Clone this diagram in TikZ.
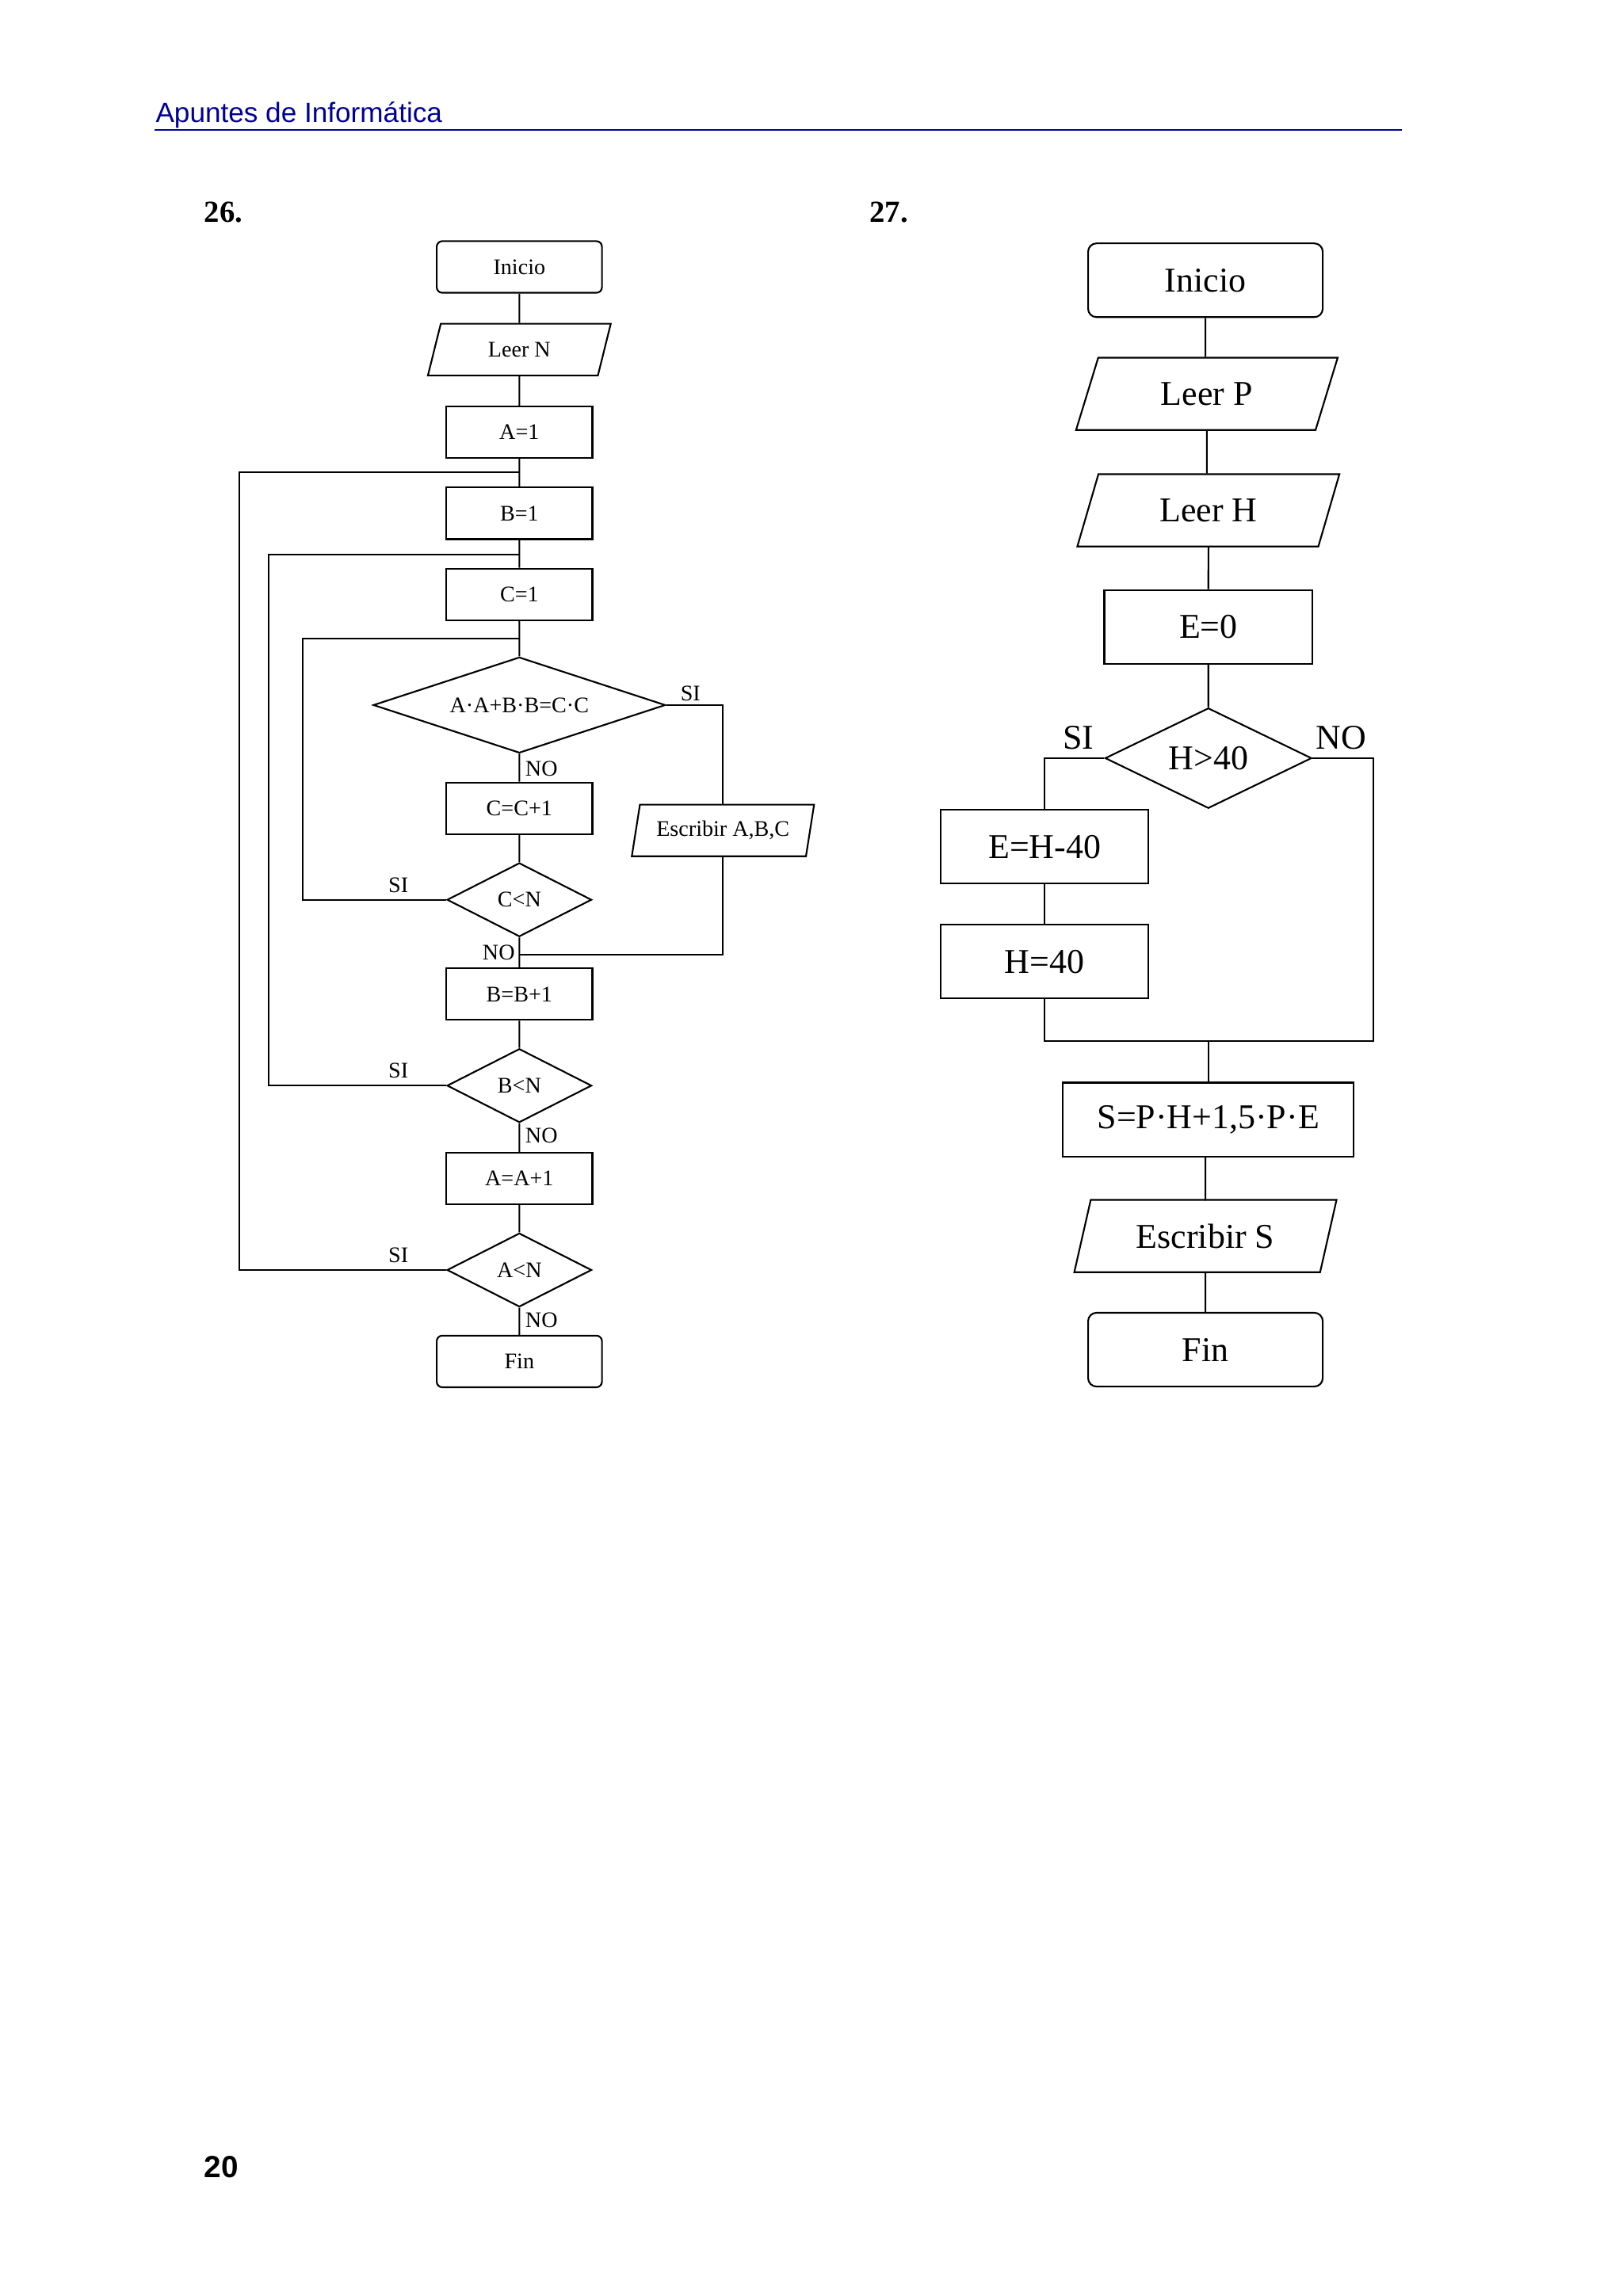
\documentclass[tikz,border=0pt]{standalone}
\usepackage{fontspec}
\setmainfont{Liberation Serif}
\newfontfamily\hsans{Liberation Sans}
\usetikzlibrary{shapes.geometric}
\newlength\un \setlength\un{0.018618cm}
\begin{document}
\begin{tikzpicture}[x=0.018618cm,y=-0.018618cm,line width=0.6pt,
 box/.style={draw,rectangle,minimum width=99\un,minimum height=35\un,inner sep=0pt,font=\fontsize{8}{9}\selectfont},
 rbox/.style={box,rounded corners=2pt,minimum width=112\un},
 io/.style={draw,trapezium,trapezium left angle=71,trapezium right angle=109,trapezium stretches=true,minimum width=124\un,minimum height=35\un,inner sep=0pt,font=\fontsize{8}{9}\selectfont},
 dec/.style={draw,diamond,aspect=2,inner sep=0pt,font=\fontsize{8}{9}\selectfont},
 Box/.style={draw,rectangle,minimum width=141\un,minimum height=50\un,inner sep=0pt,font=\fontsize{12.5}{14}\selectfont},
 RBox/.style={Box,rounded corners=3pt,minimum width=159\un},
 IO/.style={draw,trapezium,trapezium left angle=68,trapezium right angle=112,trapezium stretches=true,minimum width=178\un,minimum height=49\un,inner sep=0pt,font=\fontsize{12.5}{14}\selectfont},
 lab/.style={font=\fontsize{8}{9}\selectfont,inner sep=1pt},
 Lab/.style={font=\fontsize{12.5}{14}\selectfont,inner sep=1pt}]
\useasboundingbox (0,0) rectangle (1100,1556.6);
% header
\node[anchor=base west,inner sep=0,text=blue!60!black,font=\hsans\fontsize{10}{12}\selectfont] (hdr) at (105,83) {Apuntes de Informática};
\coordinate (h1) at (105,88); \coordinate (h2) at (950,88);
\draw[blue!60!black,line width=0.5pt] (h1) -- (h2);
\node[font=\bfseries\fontsize{11}{13}\selectfont,anchor=west,inner sep=0] (t26) at (138,144) {26.};
\node[font=\bfseries\fontsize{11}{13}\selectfont,anchor=west,inner sep=0] (t27) at (589,144) {27.};
\node[font=\hsans\bfseries\fontsize{11}{13}\selectfont,anchor=west,inner sep=0] (pg) at (138,1469) {20};
% chart 26
\node[rbox] (ini) at (352,181) {Inicio};
\node[io] (ln) at (352,237) {Leer N};
\node[box] (a1) at (352,293) {A=1};
\node[box] (b1) at (352,348) {B=1};
\node[box] (c1) at (352,403) {C=1};
\node[dec,minimum width=198\un,minimum height=65\un] (d1) at (352,478) {A·A+B·B=C·C};
\node[box] (cc) at (352,548) {C=C+1};
\node[io] (esc) at (490,563) {Escribir A,B,C};
\node[dec,minimum width=98\un,minimum height=50\un] (cn) at (352,610) {C<N};
\node[box] (bb) at (352,674) {B=B+1};
\node[dec,minimum width=98\un,minimum height=50\un] (bn) at (352,736) {B<N};
\node[box] (aa) at (352,799) {A=A+1};
\node[dec,minimum width=98\un,minimum height=50\un] (an) at (352,861) {A<N};
\node[rbox] (fin) at (352,923) {Fin};
\draw (ini)--(ln) (ln)--(a1) (a1)--(b1) (b1)--(c1) (c1)--(d1) (d1)--(cc) (cc)--(cn) (cn)--(bb) (bb)--(bn) (bn)--(aa) (aa)--(an) (an)--(fin);
\coordinate (jA) at (352,320); \coordinate (jB) at (352,376); \coordinate (jC) at (352,433); \coordinate (jE) at (352,647);
\draw (an.west) -| (162,320) -- (jA);
\draw (bn.west) -| (182,376) -- (jB);
\draw (cn.west) -| (205,433) -- (jC);
\draw (d1.east) -| (esc.north);
\draw (esc.south) |- (jE);
\node[lab] (s1) at (468,470) {SI};
\node[lab] (s2) at (270,600) {SI};
\node[lab] (s3) at (270,726) {SI};
\node[lab] (s4) at (270,851) {SI};
\node[lab] (n1) at (367,521) {NO};
\node[lab] (n2) at (338,646) {NO};
\node[lab] (n3) at (367,770) {NO};
\node[lab] (n4) at (367,895) {NO};
% chart 27
\node[RBox] (Ini) at (817,190) {Inicio};
\node[IO] (lp) at (818,267) {Leer P};
\node[IO] (lh) at (819,346) {Leer H};
\node[Box] (e0) at (819,425) {E=0};
\node[dec,minimum width=140\un,minimum height=68\un,font=\fontsize{12.5}{14}\selectfont] (hd) at (819,514) {H>40};
\node[Box] (eh) at (708,574) {E=H-40};
\node[Box] (h40) at (708,652) {H=40};
\node[Box,minimum width=197\un] (s) at (819,759) {S=P·H+1,5·P·E};
\node[IO] (es) at (817,838) {Escribir S};
\node[RBox] (Fin) at (817,915) {Fin};
\coordinate (jR) at (819,706);
\draw (Ini.south)--(Ini.south |- lp.north) (818,292)--(818,321) (lh.south)--(e0.north) (e0)--(hd);
\draw (hd.west) -| (eh.north);
\draw (eh)--(h40);
\draw (h40.south) |- (jR);
\draw (hd.east) -| (931,706) -- (jR);
\draw (jR)--(s.north);
\draw (817,784)--(817,814) (es.south)--(Fin.north);
\node[Lab] (S5) at (731,500) {SI};
\node[Lab] (N5) at (909,500) {NO};
\end{tikzpicture}
\end{document}
